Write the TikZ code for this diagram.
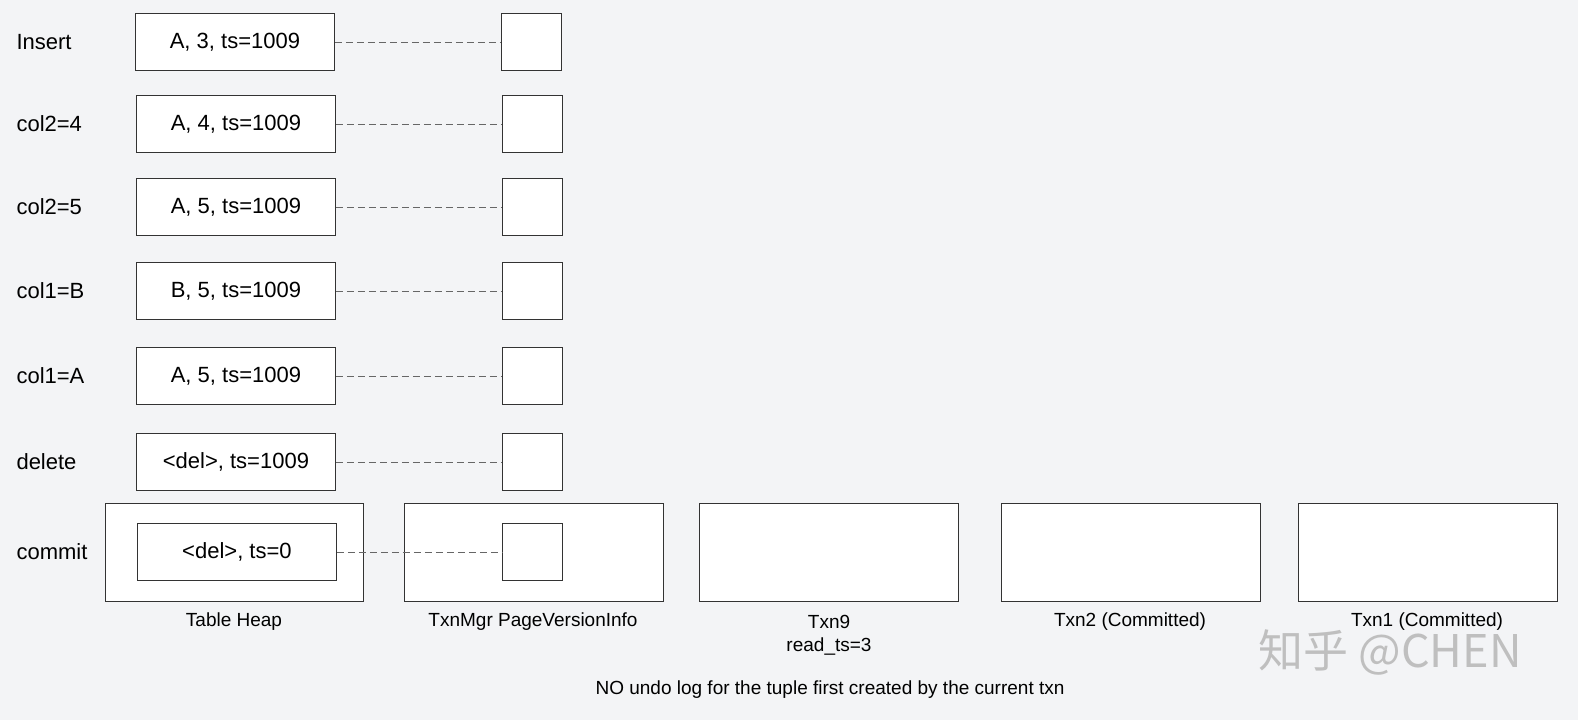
\documentclass[tikz,border=0pt]{standalone}
\usepackage{fontspec}
\setmainfont{Liberation Sans}
\newfontfamily\cjk{Noto Sans CJK SC}
\begin{document}
\begin{tikzpicture}[x=1pt,y=-1pt,
  rec/.style={draw=black!80,fill=white,line width=0.9pt,inner sep=0pt,anchor=north west},
  lbl/.style={font=\fontsize{22}{24}\selectfont,anchor=west},
  captxt/.style={font=\fontsize{19}{23}\selectfont},
  dl/.style={dash pattern=on 7pt off 4pt,draw=black!60,line width=0.9pt}]
\fill[fill={rgb,255:red,243;green,244;blue,246}] (0,0) rectangle (1578,720);
\useasboundingbox (0,0) rectangle (1578,720);
% big boxes
\node[rec,minimum width=258pt,minimum height=98pt] (heap) at (105,503) {};
\node[rec,minimum width=259pt,minimum height=98pt] (mgr) at (404,503) {};
\node[rec,minimum width=259pt,minimum height=98pt] (t9) at (699,503) {};
\node[rec,minimum width=259pt,minimum height=98pt] (t2) at (1001,503) {};
\node[rec,minimum width=259pt,minimum height=98pt] (t1) at (1298,503) {};
\node[captxt] (c1) at (234,622) {Table Heap};
\node[captxt] (c2) at (533,622) {TxnMgr PageVersionInfo};
\node[captxt,align=center] (c3) at (829,635) {Txn9\\read\_ts=3};
\node[captxt] (c4) at (1130,622) {Txn2 (Committed)};
\node[captxt] (c5) at (1427,622) {Txn1 (Committed)};
\node[captxt] (note) at (830,690) {NO undo log for the tuple first created by the current txn};
\node[font=\cjk\fontsize{45}{48}\selectfont,text=black!25] (wm) at (1390,652) {知乎 @CHEN};
% rows
\foreach \i/\y/\lab/\txt/\bx/\sx in {1/13/Insert/{A, 3, ts=1009}/135/501,
  2/95/col2=4/{A, 4, ts=1009}/136/502,
  3/178/col2=5/{A, 5, ts=1009}/136/502,
  4/262/col1=B/{B, 5, ts=1009}/136/502,
  5/347/col1=A/{A, 5, ts=1009}/136/502,
  6/433/delete/{<del>, ts=1009}/136/502,
  7/523/commit/{<del>, ts=0}/137/502}{
  \node[rec,minimum width=199pt,minimum height=57pt,font=\fontsize{22}{24}\selectfont] (b\i) at (\bx,\y) {\txt};
  \node[rec,minimum width=60pt,minimum height=57pt] (s\i) at (\sx,\y) {};
  \node[lbl] (l\i) at (13,\y+29) {\lab};
  \draw[dl] (b\i.east) -- (s\i.west);
}
\end{tikzpicture}
\end{document}
